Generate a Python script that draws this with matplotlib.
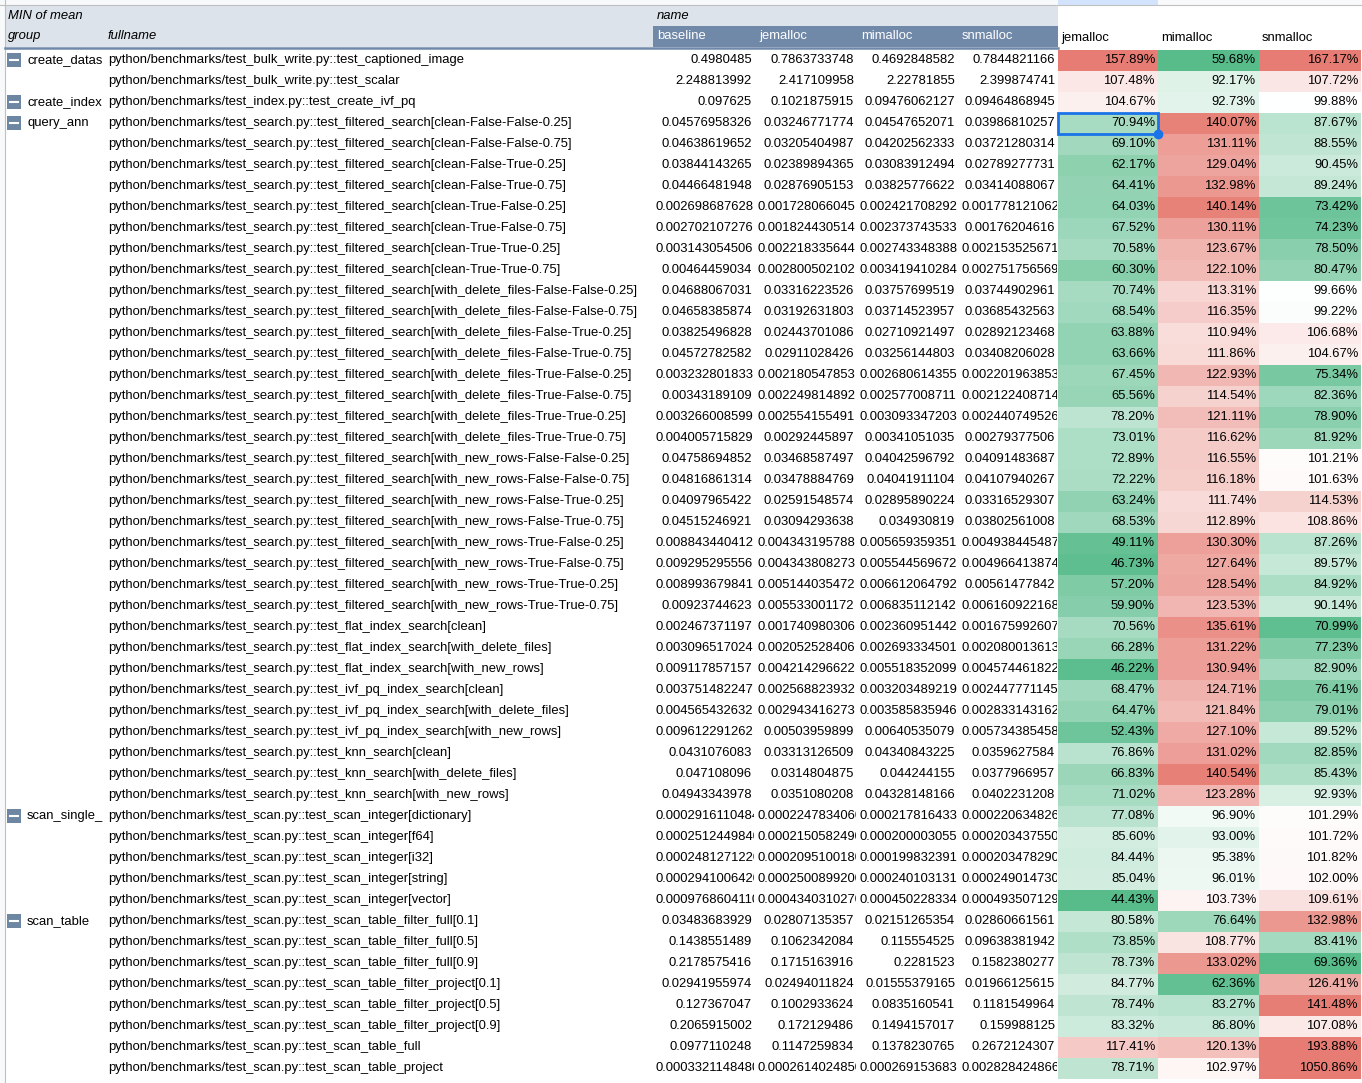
import numpy as np
import matplotlib.pyplot as plt
from matplotlib.patches import Rectangle
from matplotlib.transforms import Bbox, TransformedBbox

groups = ["create_datas", "", "create_index", "query_ann"] + [""] * 32 + ["scan_single_"] + [""] * 4 + ["scan_table"] + [""] * 7

P = "python/benchmarks/"
FS = P + "test_search.py::test_filtered_search"
fullnames = [P + "test_bulk_write.py::test_captioned_image", P + "test_bulk_write.py::test_scalar",
             P + "test_index.py::test_create_ivf_pq"]
for v in ["clean", "with_delete_files", "with_new_rows"]:
    for a in ["False", "True"]:
        for b in ["False", "True"]:
            for c in ["0.25", "0.75"]:
                fullnames.append(f"{FS}[{v}-{a}-{b}-{c}]")
for t in ["test_flat_index_search", "test_ivf_pq_index_search", "test_knn_search"]:
    for v in ["clean", "with_delete_files", "with_new_rows"]:
        fullnames.append(f"{P}test_search.py::{t}[{v}]")
for v in ["dictionary", "f64", "i32", "string", "vector"]:
    fullnames.append(f"{P}test_scan.py::test_scan_integer[{v}]")
for t in ["full", "project"]:
    for v in ["0.1", "0.5", "0.9"]:
        fullnames.append(f"{P}test_scan.py::test_scan_table_filter_{t}[{v}]")
fullnames += [P + "test_scan.py::test_scan_table_full", P + "test_scan.py::test_scan_table_project"]

baseline = ["0.4980485", "2.248813992", "0.097625", "0.04576958326", "0.04638619652", "0.03844143265",
            "0.04466481948", "0.002698687628", "0.002702107276", "0.003143054506", "0.00464459034",
            "0.04688067031", "0.04658385874", "0.03825496828", "0.04572782582", "0.003232801833",
            "0.00343189109", "0.003266008599", "0.004005715829", "0.04758694852", "0.04816861314",
            "0.04097965422", "0.04515246921", "0.008843440412", "0.009295295556", "0.008993679841",
            "0.00923744623", "0.002467371197", "0.003096517024", "0.009117857157", "0.003751482247",
            "0.004565432632", "0.009612291262", "0.0431076083", "0.047108096", "0.04943343978",
            "0.0002916110484", "0.0002512449840", "0.0002481271220", "0.0002941006420", "0.0009768604110",
            "0.03483683929", "0.1438551489", "0.2178575416", "0.02941955974", "0.127367047",
            "0.2065915002", "0.0977110248", "0.0003321148480"]
jemalloc = ["0.7863733748", "2.417109958", "0.1021875915", "0.03246771774", "0.03205404987", "0.02389894365",
            "0.02876905153", "0.001728066045", "0.001824430514", "0.002218335644", "0.002800502102",
            "0.03316223526", "0.03192631803", "0.02443701086", "0.02911028426", "0.002180547853",
            "0.002249814892", "0.002554155491", "0.00292445897", "0.03468587497", "0.03478884769",
            "0.02591548574", "0.03094293638", "0.004343195788", "0.004343808273", "0.005144035472",
            "0.005533001172", "0.001740980306", "0.002052528406", "0.004214296622", "0.002568823932",
            "0.002943416273", "0.00503959899", "0.03313126509", "0.0314804875", "0.0351080208",
            "0.0002247834060", "0.0002150582490", "0.0002095100180", "0.0002500899200", "0.0004340310270",
            "0.02807135357", "0.1062342084", "0.1715163916", "0.02494011824", "0.1002933624",
            "0.172129486", "0.1147259834", "0.0002614024850"]
mimalloc = ["0.4692848582", "2.22781855", "0.09476062127", "0.04547652071", "0.04202562333", "0.03083912494",
            "0.03825776622", "0.002421708292", "0.002373743533", "0.002743348388", "0.003419410284",
            "0.03757699519", "0.03714523957", "0.02710921497", "0.03256144803", "0.002680614355",
            "0.002577008711", "0.003093347203", "0.00341051035", "0.04042596792", "0.04041911104",
            "0.02895890224", "0.034930819", "0.005659359351", "0.005544569672", "0.006612064792",
            "0.006835112142", "0.002360951442", "0.002693334501", "0.005518352099", "0.003203489219",
            "0.003585835946", "0.00640535079", "0.04340843225", "0.044244155", "0.04328148166",
            "0.0002178164330", "0.0002000030550", "0.0001998323910", "0.0002401031310", "0.0004502283340",
            "0.02151265354", "0.115554525", "0.2281523", "0.01555379165", "0.0835160541",
            "0.1494157017", "0.1378230765", "0.0002691536830"]
snmalloc = ["0.7844821166", "2.399874741", "0.09464868945", "0.03986810257", "0.03721280314", "0.02789277731",
            "0.03414088067", "0.001778121062", "0.00176204616", "0.002153525671", "0.002751756569",
            "0.03744902961", "0.03685432563", "0.02892123468", "0.03408206028", "0.002201963853",
            "0.002122408714", "0.002440749526", "0.00279377506", "0.04091483687", "0.04107940267",
            "0.03316529307", "0.03802561008", "0.004938445487", "0.004966413874", "0.00561477842",
            "0.006160922168", "0.001675992607", "0.002080013613", "0.004574461822", "0.002447771145",
            "0.002833143162", "0.005734385458", "0.0359627584", "0.0377966957", "0.0402231208",
            "0.0002206348260", "0.0002034375500", "0.0002034782900", "0.0002490147300", "0.0004935071290",
            "0.02860661561", "0.09638381942", "0.1582380277", "0.01966125615", "0.1181549964",
            "0.159988125", "0.2672124307", "0.002828424866"]

pct_jemalloc = [157.89, 107.48, 104.67, 70.94, 69.10, 62.17, 64.41, 64.03, 67.52, 70.58, 60.30,
                70.74, 68.54, 63.88, 63.66, 67.45, 65.56, 78.20, 73.01, 72.89, 72.22, 63.24, 68.53,
                49.11, 46.73, 57.20, 59.90, 70.56, 66.28, 46.22, 68.47, 64.47, 52.43, 76.86, 66.83,
                71.02, 77.08, 85.60, 84.44, 85.04, 44.43, 80.58, 73.85, 78.73, 84.77, 78.74, 83.32,
                117.41, 78.71]
pct_mimalloc = [59.68, 92.17, 92.73, 140.07, 131.11, 129.04, 132.98, 140.14, 130.11, 123.67, 122.10,
                113.31, 116.35, 110.94, 111.86, 122.93, 114.54, 121.11, 116.62, 116.55, 116.18, 111.74,
                112.89, 130.30, 127.64, 128.54, 123.53, 135.61, 131.22, 130.94, 124.71, 121.84, 127.10,
                131.02, 140.54, 123.28, 96.90, 93.00, 95.38, 96.01, 103.73, 76.64, 108.77, 133.02,
                62.36, 83.27, 86.80, 120.13, 102.97]
pct_snmalloc = [167.17, 107.72, 99.88, 87.67, 88.55, 90.45, 89.24, 73.42, 74.23, 78.50, 80.47, 99.66,
                99.22, 106.68, 104.67, 75.34, 82.36, 78.90, 81.92, 101.21, 101.63, 114.53, 108.86,
                87.26, 89.57, 84.92, 90.14, 70.99, 77.23, 82.90, 76.41, 79.01, 89.52, 82.85, 85.43,
                92.93, 101.29, 101.72, 101.82, 102.00, 109.61, 132.98, 83.41, 69.36, 126.41, 141.48,
                107.08, 193.88, 1050.86]

allocs = ["jemalloc", "mimalloc", "snmalloc"]

W, H = 1362, 1083
plt.rcParams["font.family"] = "Liberation Sans"
fig = plt.figure(figsize=(W / 100, H / 100), dpi=100)
ax = fig.add_axes([0, 0, 1, 1])
ax.set_xlim(0, W)
ax.set_ylim(H, 0)
ax.axis("off")
FSZ = 9.4

GREEN = np.array([0x57, 0xbb, 0x8a]) / 255
RED = np.array([0xe6, 0x7c, 0x73]) / 255
WHITE = np.ones(3)


def scale_color(v, vmin, vmax):
    if v <= 100:
        t = min(1, (100 - v) / max(100 - vmin, 1e-9))
        return WHITE + (GREEN - WHITE) * t
    t = min(1, (v - 100) / (vmax - 100))
    return WHITE + (RED - WHITE) * t


# spreadsheet frame
ax.add_patch(Rectangle((0, 0), W, 5, color="#f8f9fa", lw=0))
ax.add_patch(Rectangle((0, 0), 5, H, color="#f8f9fa", lw=0))
ax.plot([5, 5], [0, H], color="#c0c0c0", lw=0.8)
ax.plot([0, W], [5, 5], color="#c0c0c0", lw=0.8)
ax.add_patch(Rectangle((1058, 0), 100, 5, color="#d3e3fd", lw=0))

# pivot header
ax.add_patch(Rectangle((5, 5), 1053, 42, color="#dde3ea", lw=0))
ax.add_patch(Rectangle((653, 26), 405, 21, color="#7189a8", lw=0))
ax.plot([5, 1058], [47.5, 47.5], color="#7189a8", lw=1.8)
ax.text(8, 16, "MIN of mean", fontsize=FSZ, style="italic", va="center")
ax.text(657, 16, "name", fontsize=FSZ, style="italic", va="center")
ax.text(8, 36, "group", fontsize=FSZ, style="italic", va="center")
ax.text(108, 36, "fullname", fontsize=FSZ, style="italic", va="center")
val_x = [653, 755, 857, 958, 1058]
for i, name in enumerate(["baseline"] + allocs):
    ax.text(val_x[i] + 4, 36, name, fontsize=FSZ, color="white", va="center")
pct_x = [1058, 1158, 1259, 1361]
for i, name in enumerate(allocs):
    ax.text(pct_x[i] + 3, 38, name, fontsize=FSZ, va="center")

y0, rh = 49.5, 21
cols = [baseline, jemalloc, mimalloc, snmalloc]
pcts = [pct_jemalloc, pct_mimalloc, pct_snmalloc]
ranges = [(min(p), 142) for p in pcts]
for r in range(len(fullnames)):
    yc = y0 + r * rh + rh / 2
    if groups[r]:
        ax.add_patch(Rectangle((7, yc - 7), 14, 14, color="#6d87a3", lw=0))
        ax.plot([10, 18], [yc, yc], color="white", lw=1.5)
        ax.text(27, yc, groups[r], fontsize=FSZ, va="center")
    ax.text(108, yc, fullnames[r], fontsize=FSZ, va="center")
    for c, col in enumerate(cols):
        s = col[r]
        bb = TransformedBbox(Bbox([[val_x[c], y0 + r * rh], [val_x[c + 1] - 1, y0 + (r + 1) * rh]]),
                             ax.transData)
        if len(s) > 13:
            t = ax.text(val_x[c] + 3, yc, s, fontsize=FSZ, va="center", ha="left")
        else:
            t = ax.text(val_x[c + 1] - 3, yc, s, fontsize=FSZ, va="center", ha="right")
        t.set_clip_box(bb)
        t.set_clip_on(True)
    for c, p in enumerate(pcts):
        ax.add_patch(Rectangle((pct_x[c], y0 + r * rh), pct_x[c + 1] - pct_x[c], rh,
                               color=scale_color(p[r], *ranges[c]), lw=0))
        ax.text(pct_x[c + 1] - 3, yc, f"{p[r]:.2f}%", fontsize=FSZ, va="center", ha="right")

# selected cell
ax.add_patch(Rectangle((1058, y0 + 3 * rh), 100, rh, fill=False, ec="#1a73e8", lw=2))
ax.plot([1158], [y0 + 4 * rh], "o", color="#1a73e8", ms=6)

fig.savefig("out.png", dpi=100)
